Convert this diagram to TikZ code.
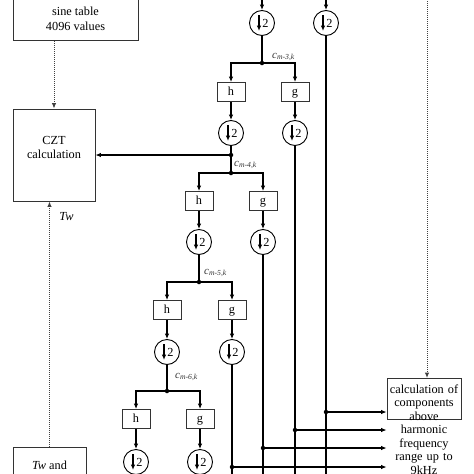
\documentclass[tikz,border=0pt]{standalone}
\usepackage{fontspec}
\setmainfont{Liberation Serif}
\usetikzlibrary{arrows.meta,positioning}

\begin{document}
\begin{tikzpicture}[
    x=1pt, y=-1pt,
    >={Latex[length=5.5pt,width=4.5pt]},
    font=\fontsize{12.3}{13.5}\selectfont,
    flow/.style={line width=1.4pt},
    block/.style={
        draw=black!80,
        line width=0.8pt,
        align=center
    },
    filt/.style={
        draw=black!80,
        line width=0.8pt,
        minimum width=28pt,
        minimum height=19pt,
        text height=8.5pt,
        text depth=2.5pt,
        inner sep=0pt
    },
    dsamp/.style={
        circle,
        draw,
        line width=0.9pt,
        minimum size=25pt,
        inner sep=0pt,
        path picture={
            \draw[line width=1.4pt,->]
                ([shift={(-3pt,8pt)}]path picture bounding box.center)
                -- ([shift={(-3pt,-8pt)}]path picture bounding box.center);
        }
    },
    junc/.style={circle, fill, inner sep=0pt, minimum size=4.5pt},
    clabel/.style={font=\fontsize{11}{12}\selectfont\itshape, text=black!80, inner sep=1pt},
    dotarrow/.style={densely dotted, line width=1pt, draw=black!75, ->}
]

\useasboundingbox (0,0) rectangle (474,474);
\clip (0,0) rectangle (474,474);

% left column blocks
\node[block, anchor=south, minimum width=125pt, inner ysep=10pt, text height=30pt] (sine) at (75.5,41) {sine table\\[1.3pt]4096 values};
\node[block, minimum width=82pt, minimum height=92pt, text depth=15pt] (czt) at (54,155) {CZT\\[1.3pt]calculation};
\node[block, anchor=north, minimum width=73pt, inner ysep=10pt, text height=12pt, text depth=20pt] (tw) at (49.5,447) {\textit{Tw} and};

% right block
\node[block, anchor=north, text width=73pt, inner xsep=0.5pt, inner ysep=6pt, text depth=20pt] (calc) at (424,378)
    {calculation of\\components\\above\\harmonic\\frequency\\range up to\\9kHz};

% top of the tree
\coordinate (t1) at (262,-5);
\coordinate (t2) at (326,-5);
\coordinate (tdot) at (427,-5);
\node[dsamp] (d1) at (262,23) {\hspace*{7pt}2};
\node[dsamp] (d2) at (326,23) {\hspace*{7pt}2};

% level m-3
\node[junc] (j3) at (262,63) {};
\node[filt] (h3) at (231,92) {h};
\node[filt] (g3) at (295,92) {g};
\node[dsamp] (dh3) at (231,133) {\hspace*{7pt}2};
\node[dsamp] (dg3) at (295,133) {\hspace*{7pt}2};

% level m-4
\node[junc] (j4a) at (231,155) {};
\node[junc] (j4) at (231,173) {};
\node[filt] (h4) at (199,201) {h};
\node[filt] (g4) at (263,201) {g};
\node[dsamp] (dh4) at (199,242) {\hspace*{7pt}2};
\node[dsamp] (dg4) at (263,242) {\hspace*{7pt}2};

% level m-5
\node[junc] (j5) at (199,282) {};
\node[filt] (h5) at (167,310) {h};
\node[filt] (g5) at (232,310) {g};
\node[dsamp] (dh5) at (167,352) {\hspace*{7pt}2};
\node[dsamp] (dg5) at (232,352) {\hspace*{7pt}2};

% level m-6
\node[junc] (j6) at (167,391) {};
\node[filt] (h6) at (136,419) {h};
\node[filt] (g6) at (200,419) {g};
\node[dsamp] (dh6) at (136,462) {\hspace*{7pt}2};
\node[dsamp] (dg6) at (200,462) {\hspace*{7pt}2};

% coefficient labels
\node[clabel, anchor=west] (c3) at (271,57) {c\textsubscript{m-3,k}};
\node[clabel, anchor=west] (c4) at (233,165) {c\textsubscript{m-4,k}};
\node[clabel, anchor=west] (c5) at (203,273) {c\textsubscript{m-5,k}};
\node[clabel, anchor=west] (c6) at (174,377) {c\textsubscript{m-6,k}};

% outputs towards the calculation block
\node[junc] (o1) at (326,412) {};
\node[junc] (o2) at (295,430) {};
\node[junc] (o3) at (263,448) {};
\node[junc] (o4) at (232,467) {};
\coordinate (b1) at (326,480);
\coordinate (b2) at (295,480);
\coordinate (b3) at (263,480);
\coordinate (b4) at (232,480);
\coordinate (b5) at (136,480);
\coordinate (b6) at (200,480);

% dotted connections
\draw[dotarrow] (sine.south -| czt.north) -- (czt.north);
\draw[dotarrow] (tw.north) -- node[pos=0.94, anchor=west, xshift=6pt, text=black] (twl) {\textit{Tw}} (tw.north |- czt.south);
\draw[dotarrow] (tdot) -- (tdot |- calc.north);

% tree connections
\draw[flow,->] (t1) -- (d1);
\draw[flow,->] (t2) -- (d2);
\draw[flow] (d1) -- (j3);
\draw[flow,->] (j3) -| (h3);
\draw[flow,->] (j3) -| (g3);
\draw[flow,->] (h3) -- (dh3);
\draw[flow,->] (g3) -- (dg3);

\draw[flow] (dh3) -- (j4);
\draw[flow,->] (j4a) -- (czt.east);
\draw[flow,->] (j4) -| (h4);
\draw[flow,->] (j4) -| (g4);
\draw[flow,->] (h4) -- (dh4);
\draw[flow,->] (g4) -- (dg4);

\draw[flow] (dh4) -- (j5);
\draw[flow,->] (j5) -| (h5);
\draw[flow,->] (j5) -| (g5);
\draw[flow,->] (h5) -- (dh5);
\draw[flow,->] (g5) -- (dg5);

\draw[flow] (dh5) -- (j6);
\draw[flow,->] (j6) -| (h6);
\draw[flow,->] (j6) -| (g6);
\draw[flow,->] (h6) -- (dh6);
\draw[flow,->] (g6) -- (dg6);
\draw[flow] (dh6) -- (b5);
\draw[flow] (dg6) -- (b6);

% detail outputs
\draw[flow] (d2) -- (b1);
\draw[flow] (dg3) -- (b2);
\draw[flow] (dg4) -- (b3);
\draw[flow] (dg5) -- (b4);
\draw[flow,->] (o1) -- (o1 -| calc.west);
\draw[flow,->] (o2) -- (o2 -| calc.west);
\draw[flow,->] (o3) -- (o3 -| calc.west);
\draw[flow,->] (o4) -- (o4 -| calc.west);

\end{tikzpicture}
\end{document}
